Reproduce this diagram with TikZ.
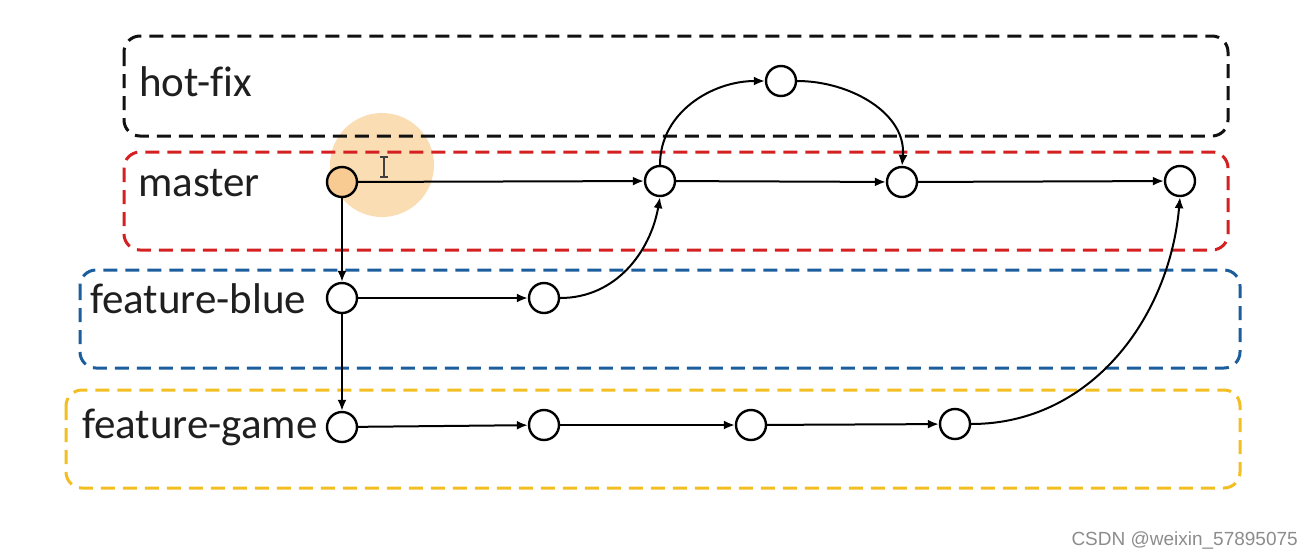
\documentclass[tikz,border=0pt]{standalone}
\usepackage{fontspec}
\setmainfont{Carlito}[Ligatures=NoCommon]
\newfontfamily\wmfont{Liberation Sans}
\usetikzlibrary{arrows.meta}
\definecolor{hfblack}{HTML}{111111}
\definecolor{mred}{HTML}{D42020}
\definecolor{fblue}{HTML}{1C5E9C}
\definecolor{fyellow}{HTML}{F2BE22}
\definecolor{hilite}{HTML}{FBDDB3}
\definecolor{hfill}{HTML}{F8CB92}
\tikzset{
  lane/.style={draw, line width=3pt, dash pattern=on 14pt off 8pt, rounded corners=16pt},
  commit/.style={circle, draw=black, fill=white, line width=2.4pt, minimum size=30pt, inner sep=0pt},
  flow/.style={line width=2pt, -{Latex[length=11pt,width=9pt]}},
  lbl/.style={anchor=west, text=black!88, font=\fontsize{43}{48}\selectfont, inner sep=0pt}
}
\begin{document}
\begin{tikzpicture}[x=1pt,y=-1pt]
\useasboundingbox (0,0) rectangle (1315,558);
% cursor highlight
\fill[hilite] (382,165) circle (52);
% lanes
\draw[lane, hfblack] (124,36) rectangle (1228,136);
\draw[lane, mred] (124,152) rectangle (1228,250);
\draw[lane, fblue] (80,270) rectangle (1240,368);
\draw[lane, fyellow] (66,390) rectangle (1240,488);
% labels
\node[lbl] (lhf) at (139,82) {hot-fix};
\node[lbl] (lm) at (138,183) {master};
\node[lbl] (lb) at (90,299) {feature-blue};
\node[lbl] (lg) at (82,427) {feature-game};
% commits
\node[commit, fill=hfill] (m1) at (342,182) {};
\node[commit] (m2) at (660,181) {};
\node[commit] (m3) at (902,182) {};
\node[commit] (m4) at (1180,181) {};
\node[commit] (h1) at (781,81) {};
\node[commit] (b1) at (342,298) {};
\node[commit] (b2) at (544,298) {};
\node[commit] (g1) at (342,427) {};
\node[commit] (g2) at (544,425) {};
\node[commit] (g3) at (751,425) {};
\node[commit] (g4) at (955,424) {};
% I-beam cursor
\draw[line width=1.3pt, black!75] (384,158) -- (384,176) (380,157) -- (388,157) (380,177) -- (388,177);
% connectors
\draw[flow] (m1) -- (m2);
\draw[flow] (m2) -- (m3);
\draw[flow] (m3) -- (m4);
\draw[flow] (m1) -- (b1);
\draw[flow] (b1) -- (g1);
\draw[flow] (b1) -- (b2);
\draw[flow] (g1) -- (g2);
\draw[flow] (g2) -- (g3);
\draw[flow] (g3) -- (g4);
\draw[flow] (b2.east) to[out=0, in=-100] (m2.south);
\draw[flow] (m2.north) to[out=90, in=180] (h1.west);
\draw[flow] (h1.east) to[out=0, in=85] (m3.north);
\draw[flow] (g4.east) to[out=0, in=-95] (m4.south);
% watermark
\node[anchor=east, text=black!45, font=\wmfont\fontsize{19}{22}\selectfont, inner sep=0pt] (wm) at (1298,540) {CSDN @weixin\_57895075};
\end{tikzpicture}
\end{document}
